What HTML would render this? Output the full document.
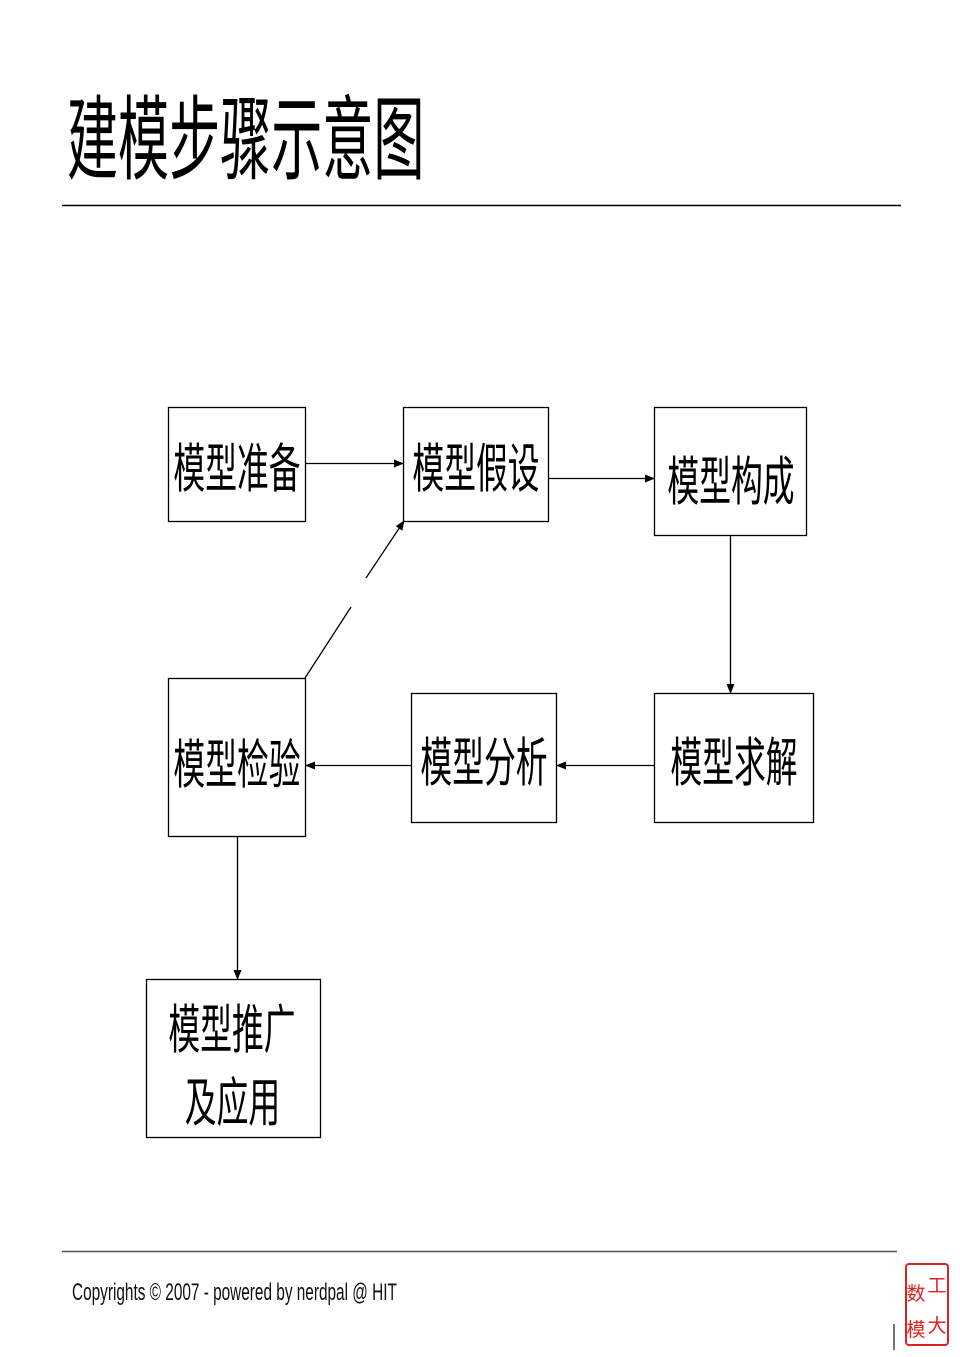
<!DOCTYPE html>
<html><head><meta charset="utf-8">
<style>
html,body{margin:0;padding:0;background:#fff;}
body{width:960px;height:1357px;position:relative;overflow:hidden;font-family:"Liberation Sans","Noto Sans CJK SC",sans-serif;}
.t{position:absolute;display:flex;align-items:center;justify-content:center;color:#000;font-family:"Liberation Sans","Noto Sans CJK SC",sans-serif;line-height:1;white-space:nowrap;}
.t span{display:inline-block;transform:scaleX(0.6);}
</style></head><body>
<div class="t" style="left:0;top:86px;width:490px;height:110px;justify-content:flex-start;">
 <span style="font-size:92px;transform:scaleX(0.555);transform-origin:left center;margin-left:67px;">建模步骤示意图</span>
</div>
<svg width="960" height="1357" style="position:absolute;left:0;top:0" xmlns="http://www.w3.org/2000/svg">
<defs><marker id="a" markerWidth="10" markerHeight="10" refX="9" refY="5" orient="auto" markerUnits="userSpaceOnUse"><path d="M0,1 L10,5 L0,9 Z" fill="#000"/></marker></defs>
<line x1="62" y1="205.5" x2="901" y2="205.5" stroke="#000" stroke-width="1.5"/>
<line x1="62" y1="1251.5" x2="897" y2="1251.5" stroke="#555" stroke-width="1.5"/>
<g fill="none" stroke="#000" stroke-width="1.3">
<rect x="168.5" y="407.5" width="137" height="114"/>
<rect x="403.5" y="407.5" width="145" height="114"/>
<rect x="654.5" y="407.5" width="152" height="128"/>
<rect x="654.5" y="693.5" width="159" height="129"/>
<rect x="411.5" y="693.5" width="145" height="129"/>
<rect x="168.5" y="678.5" width="137" height="158"/>
<rect x="146.5" y="979.5" width="174" height="158"/>
<line x1="306" y1="463.5" x2="403" y2="463.5" marker-end="url(#a)"/>
<line x1="549" y1="478.5" x2="654" y2="478.5" marker-end="url(#a)"/>
<line x1="730.5" y1="536" x2="730.5" y2="693" marker-end="url(#a)"/>
<line x1="654" y1="765.5" x2="557" y2="765.5" marker-end="url(#a)"/>
<line x1="411" y1="765.5" x2="306" y2="765.5" marker-end="url(#a)"/>
<line x1="237.5" y1="837" x2="237.5" y2="979" marker-end="url(#a)"/>
<line x1="305" y1="678" x2="351" y2="607"/>
<line x1="366" y1="578" x2="404" y2="521" marker-end="url(#a)"/>
</g>
<rect x="906" y="1264" width="42" height="81" rx="3" fill="none" stroke="#d22" stroke-width="2"/>
<text x="916" y="1300" font-size="19" fill="#d22" font-family="Noto Sans CJK SC,sans-serif" text-anchor="middle">数</text>
<text x="937" y="1292" font-size="19" fill="#d22" font-family="Noto Sans CJK SC,sans-serif" text-anchor="middle">工</text>
<text x="916" y="1336" font-size="19" fill="#d22" font-family="Noto Sans CJK SC,sans-serif" text-anchor="middle">模</text>
<text x="937" y="1332" font-size="19" fill="#d22" font-family="Noto Sans CJK SC,sans-serif" text-anchor="middle">大</text>
<line x1="894" y1="1324" x2="894" y2="1350" stroke="#444" stroke-width="1.5"/>
</svg>
<div class="t" style="left:168px;top:412px;width:138px;height:115px;"><span style="font-size:53px">模型准备</span></div>
<div class="t" style="left:403px;top:412px;width:146px;height:115px;"><span style="font-size:53px">模型假设</span></div>
<div class="t" style="left:654px;top:412px;width:153px;height:140px;"><span style="font-size:53px">模型构成</span></div>
<div class="t" style="left:654px;top:698px;width:160px;height:130px;"><span style="font-size:53px">模型求解</span></div>
<div class="t" style="left:411px;top:698px;width:146px;height:130px;"><span style="font-size:53px">模型分析</span></div>
<div class="t" style="left:168px;top:680px;width:138px;height:170px;"><span style="font-size:53px">模型检验</span></div>
<div class="t" style="left:142px;top:1000px;width:180px;height:60px;"><span style="font-size:53px">模型推广</span></div>
<div class="t" style="left:142px;top:1073px;width:180px;height:60px;"><span style="font-size:53px">及应用</span></div>
<div class="t" style="left:72px;top:1278px;height:30px;justify-content:flex-start;"><span style="font-size:24px;transform:scaleX(0.64);transform-origin:left center;color:#111;">Copyrights © 2007 - powered by nerdpal @ HIT</span></div>
</body></html>
